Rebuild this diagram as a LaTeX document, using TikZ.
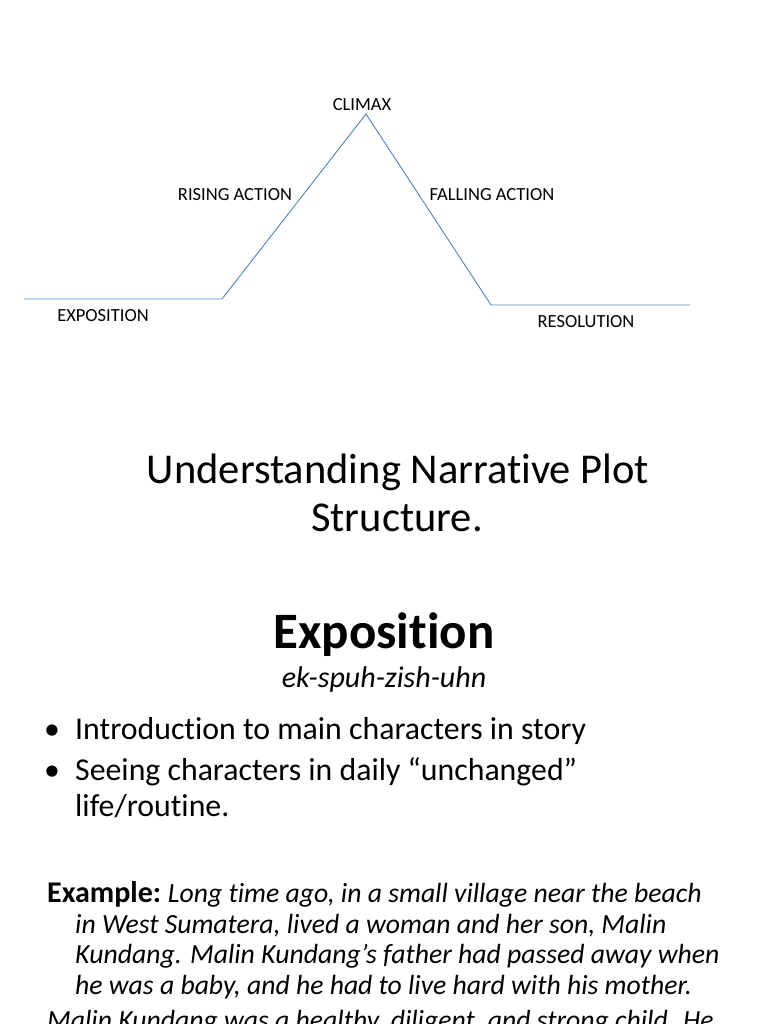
\documentclass[tikz,border=0pt]{standalone}
\usepackage{fontspec}
\setmainfont[RawFeature=-liga]{Carlito}
\newcommand{\fs}[1]{\fontsize{#1pt}{#1pt}\selectfont}
\begin{document}
\begin{tikzpicture}[x=1pt,y=-1pt,
  lab/.style={anchor=base,inner sep=0pt,font=\fs{18.5}},
  body/.style={anchor=base west,inner sep=0pt,font=\fs{31.8}},
  ex/.style={anchor=base west,inner sep=0pt,font=\fs{27.7}\itshape}]
\useasboundingbox (0,0) rectangle (768,1024);
\clip (0,0) rectangle (768,1024);
\coordinate (p0) at (24,299);
\coordinate (p1) at (222,299);
\coordinate (p2) at (366,114);
\coordinate (p3) at (491,305);
\coordinate (p4) at (690,305);
\draw[color={rgb,255:red,79;green,129;blue,189},line width=0.9pt] (p0)--(p1)--(p2)--(p3)--(p4);
\node[lab] (cl) at (362,111) {CLIMAX};
\node[lab] (ra) at (235,201) {RISING ACTION};
\node[lab] (fa) at (492,201) {FALLING ACTION};
\node[lab] (ex) at (103,321) {EXPOSITION};
\node[lab] (re) at (586,327) {RESOLUTION};
\node[anchor=base,inner sep=0pt,font=\fs{42.5}] (t1) at (398,483) {Understanding Narrative Plot};
\node[anchor=base,inner sep=0pt,font=\fs{42.5}] (t2) at (397,531) {Structure.};
\node[anchor=base,inner sep=0pt,font=\fs{51}\bfseries] (h) at (384,648) {Exposition};
\node[anchor=base,inner sep=0pt,font=\fs{30}\itshape] (pr) at (384,687) {ek-spuh-zish-uhn};
\node[body] (b1) at (44,739) {•};
\node[body] (b1t) at (75,739) {Introduction to main characters in story};
\node[body] (b2) at (44,780) {•};
\node[body] (b2t) at (75,780) {Seeing characters in daily “unchanged”};
\node[body] (b2u) at (75,816) {life/routine.};
\node[ex] (e0) at (47,902) {\upshape\bfseries\fs{30}Example:\ \mdseries\itshape\fs{27.7}Long time ago, in a small village near the beach};
\node[ex] (e1) at (75,933) {in West Sumatera, lived a woman and her son, Malin};
\node[ex] (e2) at (75,963) {Kundang. Malin Kundang's father had passed away when};
\node[ex] (e3) at (75,994) {he was a baby, and he had to live hard with his mother.};
\node[ex] (e4) at (47,1029) {Malin Kundang was a healthy, diligent, and strong child. He};
\end{tikzpicture}
\end{document}
